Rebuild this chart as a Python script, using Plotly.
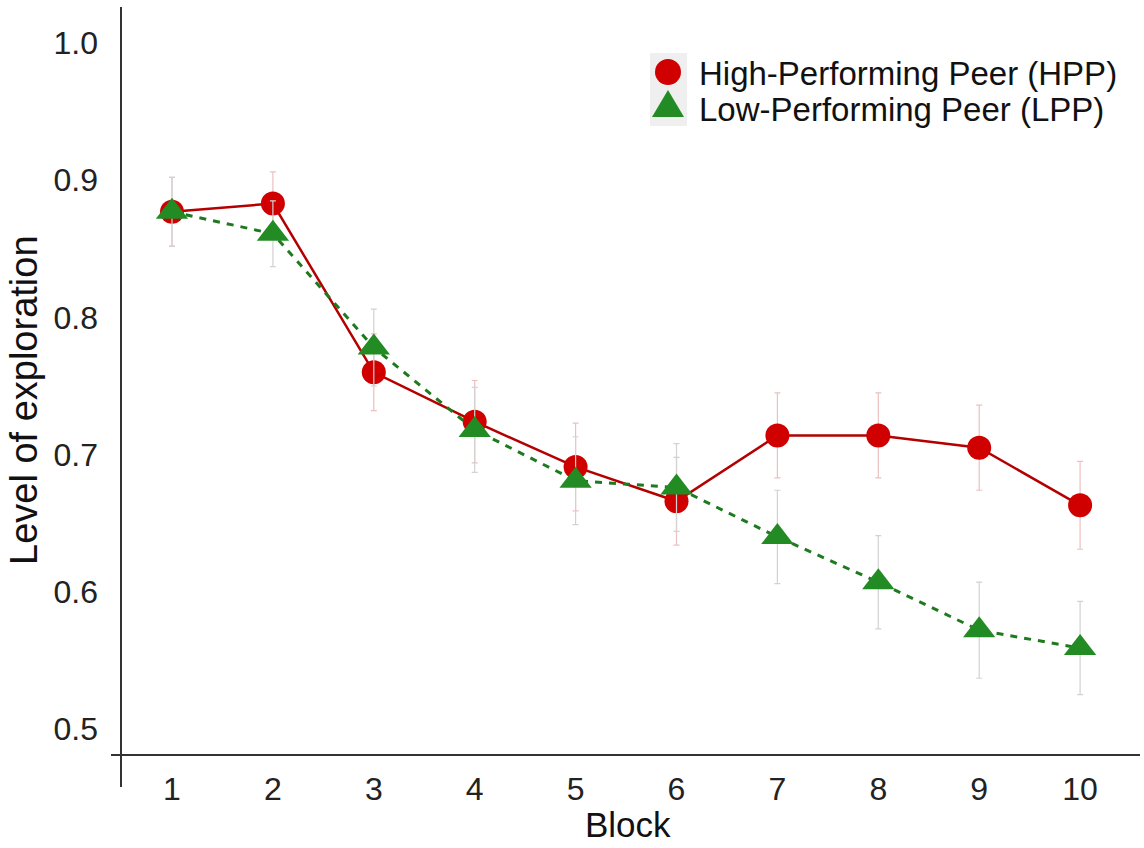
import plotly.graph_objects as go

blocks = [1, 2, 3, 4, 5, 6, 7, 8, 9, 10]
hpp_mean = [0.877, 0.883, 0.760, 0.724, 0.691, 0.666, 0.714, 0.714, 0.705, 0.663]
hpp_err = [0.025, 0.023, 0.028, 0.030, 0.032, 0.032, 0.031, 0.031, 0.031, 0.032]
lpp_mean = [0.877, 0.861, 0.778, 0.718, 0.681, 0.676, 0.640, 0.607, 0.572, 0.559]
lpp_err = [0.025, 0.024, 0.028, 0.031, 0.032, 0.032, 0.034, 0.034, 0.035, 0.034]
y_ticks = [0.5, 0.6, 0.7, 0.8, 0.9, 1.0]
y_tick_labels = ["0.5", "0.6", "0.7", "0.8", "0.9", "1.0"]
series_names = ["High-Performing Peer (HPP)", "Low-Performing Peer (LPP)"]

W, H = 1144, 848
ML, MR, MT, MB = 121, 4, 5, 93
PW, PH = W - ML - MR, H - MT - MB

def px(x):
    return (x - ML) / PW

def py(y):
    return (H - MB - y) / PH

FONT = "Liberation Sans, Arial, sans-serif"
HPP_MARK, HPP_LINE = "#D00000", "#B40000"
LPP_MARK, LPP_LINE = "#238B23", "#1E7A1E"

fig = go.Figure()
fig.add_trace(go.Scatter(
    x=blocks, y=hpp_mean, mode="lines+markers", name=series_names[0],
    line=dict(color=HPP_LINE, width=2.5),
    marker=dict(symbol="circle", size=24, color=HPP_MARK),
    error_y=dict(type="data", array=hpp_err, visible=True, color="#EBC0C0", thickness=1.2, width=3),
))
fig.add_trace(go.Scatter(
    x=blocks, y=lpp_mean, mode="lines+markers", name=series_names[1],
    line=dict(color=LPP_LINE, width=3, dash="7px,7px"),
    marker=dict(symbol="triangle-up", size=28, color=LPP_MARK),
    error_y=dict(type="data", array=lpp_err, visible=True, color="#D2D2D2", thickness=1.2, width=3),
))

tri = "M {:.5f} {:.5f} L {:.5f} {:.5f} L {:.5f} {:.5f} Z".format(
    px(668), py(90), px(684), py(117), px(652), py(117))

shapes = [
    # legend key background and keys
    dict(type="rect", xref="paper", yref="paper", x0=px(650), x1=px(687), y0=py(126), y1=py(53),
         fillcolor="#EFEFEF", line=dict(width=0), layer="below"),
    dict(type="circle", xref="paper", yref="paper", x0=px(655), x1=px(681), y0=py(85), y1=py(59),
         fillcolor=HPP_MARK, line=dict(width=0)),
    dict(type="path", xref="paper", yref="paper", path=tri, fillcolor=LPP_MARK, line=dict(width=0)),
    # axis lines
    dict(type="line", xref="paper", yref="paper", x0=0, x1=0, y0=py(787), y1=py(7),
         line=dict(color="#333333", width=2)),
    dict(type="line", xref="paper", yref="paper", x0=px(111), x1=px(1140), y0=0, y1=0,
         line=dict(color="#333333", width=2)),
]

annotations = [
    dict(text=series_names[0], xref="paper", yref="paper", x=px(697), y=py(73), showarrow=False,
         font=dict(family=FONT, size=33, color="#111111"), xanchor="left", yanchor="middle"),
    dict(text=series_names[1], xref="paper", yref="paper", x=px(697), y=py(109), showarrow=False,
         font=dict(family=FONT, size=33, color="#111111"), xanchor="left", yanchor="middle"),
    dict(text="Block", xref="paper", yref="paper", x=px(628), y=py(846), showarrow=False,
         font=dict(family=FONT, size=35, color="#111111"), xanchor="center", yanchor="bottom"),
    dict(text="Level of exploration", xref="paper", yref="paper", x=px(24), y=py(400), showarrow=False,
         textangle=-90, font=dict(family=FONT, size=38, color="#111111"), xanchor="center", yanchor="middle"),
]

fig.update_layout(
    width=W, height=H,
    margin=dict(l=ML, r=MR, t=MT, b=MB),
    paper_bgcolor="white", plot_bgcolor="white",
    font=dict(family=FONT, color="#111111"),
    showlegend=False,
    shapes=shapes, annotations=annotations,
)
fig.update_xaxes(range=[1 - (172 - 121) / 100.9, 1 + (1140 - 172) / 100.9],
                 tickmode="array", tickvals=blocks, ticktext=[str(b) for b in blocks],
                 showgrid=False, zeroline=False, showline=False, ticks="",
                 tickfont=dict(family=FONT, size=32, color="#222222"), ticklabelstandoff=12)
fig.update_yaxes(range=[0.5 - 26 / 1372, 1.0 + 38 / 1372],
                 tickmode="array", tickvals=y_ticks, ticktext=y_tick_labels,
                 showgrid=False, zeroline=False, showline=False, ticks="",
                 tickfont=dict(family=FONT, size=32, color="#222222"), ticklabelstandoff=22)

fig.write_html("out.html")
